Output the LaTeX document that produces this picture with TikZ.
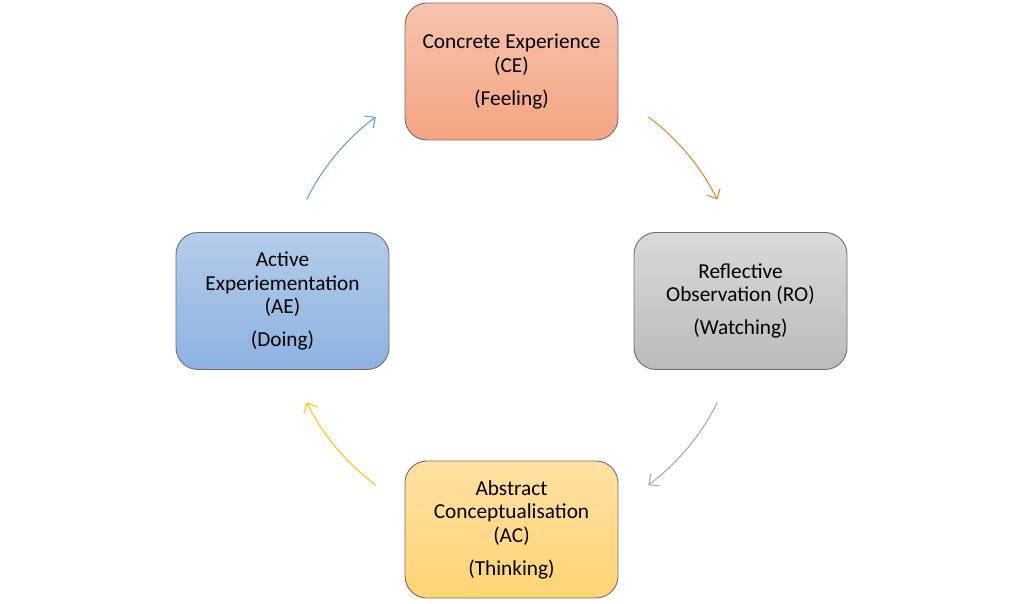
\documentclass[tikz,border=0pt]{standalone}
\usepackage{fontspec}
\setmainfont{Carlito}
\usetikzlibrary{arrows.meta}
\definecolor{ceT}{HTML}{F7C3AE}
\definecolor{ceB}{HTML}{F4A582}
\definecolor{roT}{HTML}{D9D9D9}
\definecolor{roB}{HTML}{BBBBBB}
\definecolor{aeT}{HTML}{B4CCEA}
\definecolor{aeB}{HTML}{8DB2E1}
\definecolor{acT}{HTML}{FFE0A3}
\definecolor{acB}{HTML}{FFD474}
\definecolor{bord}{HTML}{6E6E6E}
\definecolor{aOr}{HTML}{ED7D31}
\definecolor{aGr}{HTML}{A5A5A5}
\definecolor{aYe}{HTML}{FFC000}
\definecolor{aBl}{HTML}{5B9BD5}
\tikzset{
  stagebox/.style={draw=bord, line width=0.9pt, rounded corners=22pt,
    minimum width=213pt, minimum height=137pt, align=center,
    font=\fontsize{21.3}{23.5}\selectfont, text=black},
  cyc/.style={line width=1pt, -{Straight Barb[length=8pt,width=15pt,line width=1pt]}}
}
\begin{document}
\begin{tikzpicture}[x=1pt,y=1pt]
\useasboundingbox (0,0) rectangle (1024,604);
\coordinate (c) at (512,303);
\node[stagebox, top color=ceT, bottom color=ceB] (ce) at (511.5,532.5)
  {Concrete Experience\\(CE)\\[9.5pt](Feeling)};
\node[stagebox, top color=roT, bottom color=roB] (ro) at (740.5,303)
  {Reflective\\Observation (RO)\\[9.5pt](Watching)};
\node[stagebox, top color=aeT, bottom color=aeB] (ae) at (282.5,303)
  {Active\\Experiementation\\(AE)\\[9.5pt](Doing)};
\node[stagebox, top color=acT, bottom color=acB] (ac) at (511.5,74.5)
  {Abstract\\Conceptualisation\\(AC)\\[9.5pt](Thinking)};
\draw[cyc, aOr] (c) ++(53.5:229) arc[start angle=53.5, end angle=26.3, radius=229];
\draw[cyc, aGr] (c) ++(-26.3:229) arc[start angle=-26.3, end angle=-53.5, radius=229];
\draw[cyc, aYe] (c) ++(-126.5:229) arc[start angle=-126.5, end angle=-153.7, radius=229];
\draw[cyc, aBl] (c) ++(153.7:229) arc[start angle=153.7, end angle=126.5, radius=229];
\end{tikzpicture}
\end{document}
